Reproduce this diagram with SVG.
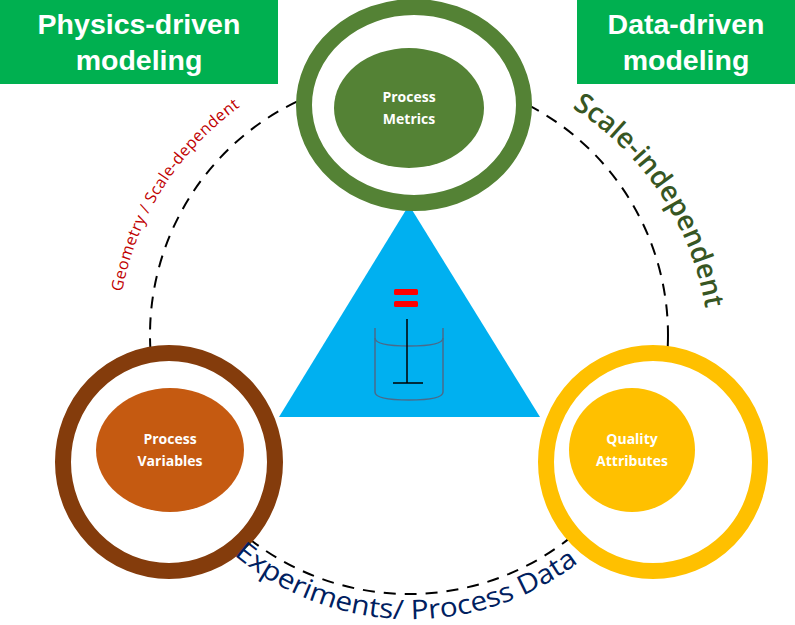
<svg xmlns="http://www.w3.org/2000/svg" width="795" height="625" viewBox="0 0 795 625">
<style>
.hdr{font-family:"Liberation Sans",Arial,sans-serif;font-weight:bold;font-size:28.5px;fill:#fff;text-anchor:middle}
.lbl{font-family:"Open Sans","Liberation Sans",sans-serif;font-weight:bold;font-size:14px;fill:#fff;text-anchor:middle}
.cur{font-family:"Open Sans","Liberation Sans",sans-serif}
</style>
<defs>
<path id="pGeo" d="M 122 292 A 295 295 0 0 1 250 100"/>
<path id="pScale" d="M 572 108 A 295 295 0 0 1 706 312"/>
<path id="pExp" d="M 234 555 A 276 276 0 0 0 588 555"/>
</defs>
<g id="connectors">
<circle cx="409" cy="335" r="259" fill="none" stroke="#000" stroke-width="2" stroke-dasharray="12,9"/>
</g>
<g id="header-physics"><rect x="0" y="0" width="278" height="84" fill="#00B050"/>
<text class="hdr" x="139" y="34">Physics-driven</text><text class="hdr" x="139" y="70">modeling</text></g>
<g id="header-data"><rect x="577" y="0" width="218" height="84" fill="#00B050"/>
<text class="hdr" x="686" y="34">Data-driven</text><text class="hdr" x="686" y="70">modeling</text></g>
<g id="triangle">
<polygon points="409,205 279,417 540,417" fill="#00B0F0"/>
<rect x="394" y="289" width="24" height="6" rx="1.5" fill="#FF0000"/>
<rect x="394" y="301" width="24" height="6" rx="1.5" fill="#FF0000"/>
<path d="M375 328 V392 Q375 400 409 400 Q443 400 443 392 V328" fill="none" stroke="#4A6A8A" stroke-width="1.5"/>
<path d="M375 338 Q375 346 409 346 Q443 346 443 338" fill="none" stroke="#4A6A8A" stroke-width="1.5"/>
<line x1="407" y1="319" x2="407" y2="383" stroke="#000" stroke-width="1.5"/>
<line x1="393" y1="383" x2="423" y2="383" stroke="#000" stroke-width="1.5"/>
</g>
<g id="process-metrics">
<ellipse cx="414" cy="105" rx="110" ry="98" fill="#fff" stroke="#548235" stroke-width="16"/>
<ellipse cx="409" cy="108" rx="75" ry="60" fill="#548235"/>
<text class="lbl" x="409" y="102">Process</text><text class="lbl" x="409" y="124">Metrics</text>
</g>
<g id="process-variables">
<ellipse cx="169" cy="462" rx="106" ry="109" fill="#fff" stroke="#843C0C" stroke-width="16"/>
<ellipse cx="170" cy="450" rx="74" ry="62" fill="#C55A11"/>
<text class="lbl" x="170" y="444">Process</text><text class="lbl" x="170" y="466">Variables</text>
</g>
<g id="quality-attributes">
<ellipse cx="653" cy="462" rx="107" ry="109" fill="#fff" stroke="#FFC000" stroke-width="16"/>
<ellipse cx="632" cy="450" rx="63" ry="62" fill="#FFC000"/>
<text class="lbl" x="632" y="444">Quality</text><text class="lbl" x="632" y="466">Attributes</text>
</g>
<text class="cur" font-size="16" fill="#C00000"><textPath href="#pGeo" textLength="225" lengthAdjust="spacing">Geometry / Scale-dependent</textPath></text>
<text class="cur" font-size="28" font-weight="600" fill="#375623"><textPath href="#pScale" textLength="248" lengthAdjust="spacingAndGlyphs">Scale-independent</textPath></text>
<text class="cur" font-size="27" fill="#002060"><textPath href="#pExp" textLength="372" lengthAdjust="spacingAndGlyphs">Experiments/  Process Data</textPath></text>
</svg>
